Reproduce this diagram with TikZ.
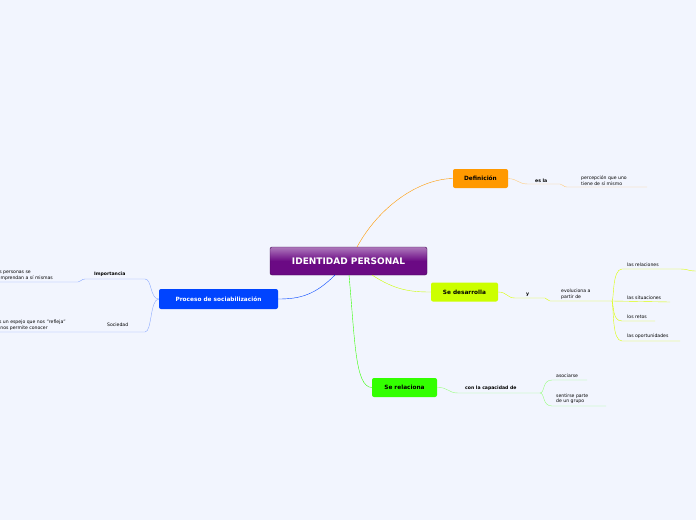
\documentclass[tikz,border=0pt]{standalone}
\usepackage{fontspec}
\setmainfont{DejaVu Sans}
\usetikzlibrary{positioning}
\definecolor{bgc}{HTML}{F2F5FE}
\definecolor{orng}{HTML}{FF9900}
\definecolor{lime}{HTML}{CCFF00}
\definecolor{grn}{HTML}{33FF00}
\definecolor{blu}{HTML}{0044FF}
\definecolor{purp}{HTML}{6B0A84}
\begin{document}
\begin{tikzpicture}[x=1pt,y=-1pt]
\tikzset{
  main/.style={draw=purp!60!black, rounded corners=2pt, minimum width=157pt, minimum height=28pt,
    top color=purp!55!white, bottom color=purp, middle color=purp, font=\fontsize{9}{10}\selectfont\bfseries, text=white},
  topic/.style={rounded corners=2pt, font=\fontsize{5.8}{6}\selectfont\bfseries, inner sep=0pt},
  leaf/.style={font=\fontsize{4.6}{5.6}\selectfont, align=left, inner sep=0pt, anchor=south west},
  bleaf/.style={leaf, font=\fontsize{4.6}{5.6}\selectfont\bfseries}
}
\useasboundingbox[fill=bgc] (0,0) rectangle (696,520);

% central node and main topics
\node[main] (id) at (348.5,261) {IDENTIDAD PERSONAL};
\node[topic, fill=orng, minimum width=55pt, minimum height=19pt] (def) at (480.5,178.5) {Definición};
\node[topic, fill=lime, minimum width=67pt, minimum height=19pt] (des) at (464.5,292) {Se desarrolla};
\node[topic, fill=grn, minimum width=65pt, minimum height=19pt] (rel) at (404.5,387.5) {Se relaciona};
\node[topic, fill=blu, text=white, minimum width=119pt, minimum height=20pt] (soc) at (218.5,299) {Proceso de sociabilización};

\draw[orng, thin] (357,247) .. controls (380,205) and (420,179) .. (def.west);
\draw[lime, thin] (372,275) .. controls (395,290) and (410,292) .. (des.west);
\draw[grn, thin] (349,275) .. controls (355,340) and (355,387) .. (rel.west);
\draw[blu, thin] (335,275) .. controls (315,295) and (300,299) .. (soc.east);

% Definicion
\begin{scope}[orng!50, thin]
\coordinate (d1) at (528,184); \coordinate (d2) at (560,184);
\coordinate (d3) at (567,187); \coordinate (d4) at (647,187);
\draw (def.east) .. controls (518,179) and (518,184) .. (d1) -- (d2)
  .. controls (563,184) and (563,187) .. (d3) -- (d4);
\end{scope}
\node[bleaf] (esla) at (535,182.5) {es la};
\node[leaf] (perc) at (581,185.5) {percepción que uno\\tiene de sí mismo};

% Se desarrolla
\begin{scope}[lime!70!yellow, thin]
\coordinate (s1) at (515,298); \coordinate (s2) at (545,298);
\coordinate (s3) at (550,301); \coordinate (s4) at (612,301);
\draw (des.east) .. controls (507,292) and (507,298) .. (s1) -- (s2)
  .. controls (547,298) and (547,301) .. (s3) -- (s4);
\draw (s4) .. controls (614,301) and (612,269) .. (622,269) -- (680,269)
  .. controls (688,269) and (688,271) .. (696,271);
\draw (s4) -- (670,302);
\draw (s4) .. controls (614,305) and (612,321) .. (622,321) -- (655,321);
\draw (s4) .. controls (614,310) and (612,341) .. (622,341) -- (680,341);
\end{scope}
\node[bleaf] (y) at (526,296.5) {y};
\node[leaf] (evo) at (561,299.5) {evoluciona a\\partir de};
\node[leaf] (r1) at (627,267) {las relaciones};
\node[leaf] (r2) at (627,300) {las situaciones};
\node[leaf] (r3) at (627,319) {los retos};
\node[leaf] (r4) at (627,339) {las oportunidades};

% Se relaciona
\begin{scope}[grn!50, thin]
\coordinate (c1) at (458,393); \coordinate (c2) at (540,393);
\draw (rel.east) .. controls (448,387) and (448,393) .. (c1) -- (c2);
\draw (c2) .. controls (545,393) and (542,380) .. (552,380) -- (587,380);
\draw (c2) .. controls (545,393) and (542,406) .. (552,406) -- (606,406);
\end{scope}
\node[bleaf] (cap) at (465,391) {con la capacidad de};
\node[leaf] (aso) at (556,378) {asociarse};
\node[leaf] (sen) at (556,404) {sentirse parte\\de un grupo};

% Proceso de sociabilizacion
\begin{scope}[blu!45, thin]
\coordinate (p1) at (145,279); \coordinate (p2) at (85,279);
\coordinate (p3) at (78,282); \coordinate (p4) at (0,282);
\coordinate (q1) at (145,332); \coordinate (q2) at (95,332);
\coordinate (q3) at (88,332); \coordinate (q4) at (0,332);
\draw (soc.west) .. controls (150,299) and (152,279) .. (p1) -- (p2)
  .. controls (81,279) and (81,282) .. (p3) -- (p4);
\draw (soc.west) .. controls (150,299) and (152,332) .. (q1) -- (q2) -- (q4);
\end{scope}
\node[bleaf] (imp) at (94,277) {Importancia};
\node[leaf] (tx1) at (-5,280.5) {las personas se\\comprendan a sí mismas};
\node[leaf] (sdad) at (107,327) {Sociedad};
\node[leaf] (tx2) at (-4,330.5) {Es un espejo que nos "refleja"\\y nos permite conocer};
\end{tikzpicture}
\end{document}
